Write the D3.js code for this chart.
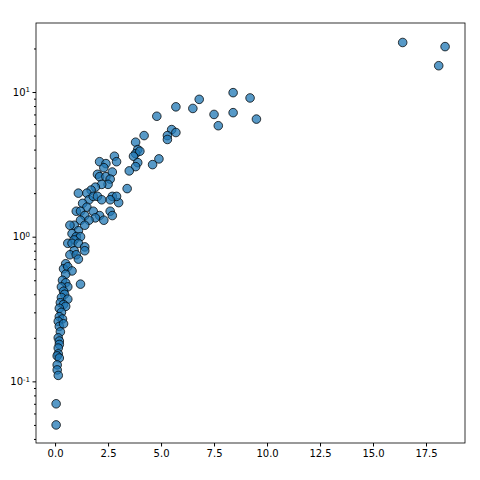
<!DOCTYPE html>
<html><head><meta charset="utf-8">
<script src="https://cdn.jsdelivr.net/npm/d3@7"></script>
<style>body{margin:0;background:#fff}</style>
</head><body>
<script>
const xs = [16.4,18.4,18.1,8.4,9.2,6.8,5.7,6.5,4.8,7.5,8.4,9.5,7.7,5.5,5.7,5.3,5.3,4.2,3.8,3.9,3.8,3.7,4.0,3.9,3.8,4.9,4.6,3.5,3.4,3.0,
2.8,2.9,2.1,2.4,2.3,2.0,2.1,2.4,2.7,2.6,2.5,2.2,1.9,1.7,1.5,1.1,1.6,1.8,2.0,2.7,2.9,2.6,2.2,1.3,1.5,1.0,1.2,1.4,1.8,2.1,2.6,2.7,2.3,1.9,1.6,1.2,0.9,0.7,1.1,1.4,0.8,1.0,1.2,0.9,0.6,0.8,1.1,1.4,1.4,0.9,0.7,1.0,1.1,0.5,0.4,0.6,0.8,1.2,0.5,0.35,0.5,0.6,0.3,0.4,0.45,0.3,0.6,0.25,0.4,0.5,0.2,0.3,0.2,0.35,0.15,0.2,0.4,0.25,0.15,0.2,0.2,0.15,0.15,0.1,0.2,0.1,0.1,0.15,0.05,0.05];
const ys = [22,20.6,15.2,9.9,9.1,8.9,7.9,7.7,6.8,7.0,7.2,6.5,5.85,5.5,5.25,5.0,4.7,5.0,4.5,4.0,3.75,3.6,3.9,3.25,3.05,3.45,3.15,2.85,2.15,1.72,
3.6,3.3,3.3,3.2,3.0,2.7,2.6,2.6,2.8,2.5,2.3,2.3,2.2,2.1,2.0,2.0,1.8,1.9,1.9,1.9,1.9,1.8,1.8,1.7,1.6,1.5,1.5,1.4,1.5,1.4,1.5,1.4,1.3,1.35,1.3,1.3,1.2,1.2,1.1,1.2,1.05,1.0,1.0,0.95,0.9,0.9,0.9,0.85,0.8,0.8,0.75,0.75,0.7,0.65,0.6,0.62,0.58,0.47,0.55,0.5,0.48,0.45,0.45,0.42,0.4,0.38,0.37,0.35,0.34,0.33,0.32,0.3,0.28,0.27,0.26,0.24,0.25,0.22,0.2,0.19,0.18,0.17,0.155,0.15,0.145,0.13,0.12,0.11,0.07,0.05];
const data = xs.map((x, i) => ({ x: x, y: ys[i] }));

const margin = { top: 23, right: 15, bottom: 37, left: 36 };
const width = 480 - margin.left - margin.right;
const height = 480 - margin.top - margin.bottom;

const svg = d3.select("body").append("svg")
  .attr("width", 480).attr("height", 480)
  .append("g")
  .attr("transform", `translate(${margin.left}, ${margin.top})`);

const xScale = d3.scaleLinear().domain([-0.9, 19.34]).range([0, width]);
const yScale = d3.scaleLog().domain([0.0375, 30]).range([height, 0]);

// Axes.
const xAxis = d3.axisBottom(xScale).tickValues(d3.range(0, 18, 2.5)).tickFormat(d3.format(".1f")).tickSize(3.5);
svg.append("g").attr("transform", `translate(0, ${height})`).call(xAxis);

const major = [0.1, 1, 10];
const minor = [];
[0.01, 0.1, 1, 10].forEach((b) => { for (let k = 2; k < 10; k++) { const v = b * k; if (v > 0.0375 && v < 30) minor.push(v); } });
svg.append("g").call(d3.axisLeft(yScale).tickValues(minor).tickFormat("").tickSize(2));
const yAxisDraw = svg.append("g").call(d3.axisLeft(yScale).tickValues(major).tickFormat("").tickSize(3.5));
yAxisDraw.selectAll(".tick").append("text")
  .attr("x", -6).attr("dy", "0.32em").attr("text-anchor", "end").attr("fill", "#000")
  .html((d) => `10<tspan dy="-0.5em" font-size="7">${Math.round(Math.log10(d))}</tspan>`);

svg.selectAll(".domain").remove();
svg.selectAll(".tick > text").attr("font-family", "DejaVu Sans").attr("font-size", 10);
svg.selectAll(".tick line").attr("stroke", "#000");

svg.append("rect").attr("width", width).attr("height", height)
  .attr("fill", "none").attr("stroke", "#000").attr("stroke-width", 0.8);

// Points.
svg.append("g").selectAll("circle").data(data).enter().append("circle")
  .attr("cx", (d) => xScale(d.x))
  .attr("cy", (d) => yScale(d.y))
  .attr("r", 4.3)
  .style("fill", "#1f77b4").style("fill-opacity", 0.75)
  .style("stroke", "#000").style("stroke-opacity", 0.75).style("stroke-width", 1);
</script>
</body></html>
